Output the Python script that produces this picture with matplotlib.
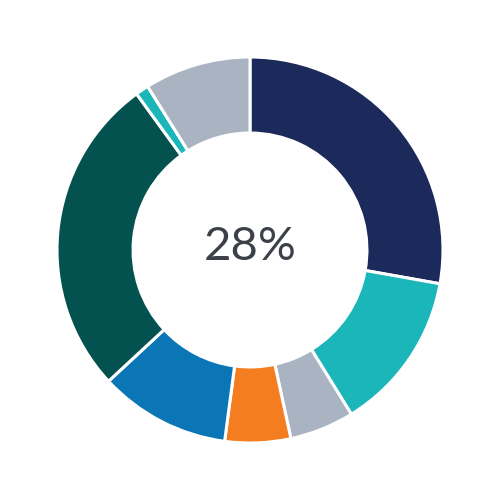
import matplotlib
matplotlib.use("Agg")
from matplotlib import pyplot as plt

# slices clockwise from the top
shares = [27.8, 13.4, 5.4, 5.5, 11, 26.9, 1.1, 8.9]
colors = ["#1c2a5b", "#1ab6b9", "#a9b3c1", "#f47d20",
          "#0a76b6", "#04524f", "#1ab6b9", "#a9b3c1"]
center_label = "28%"

fig = plt.figure(figsize=(5, 5), dpi=100)
ax = fig.add_axes([0, 0, 1, 1])

ax.pie(shares, colors=colors, startangle=90, counterclock=False,
       radius=1, wedgeprops=dict(width=0.394, edgecolor="white", linewidth=2.2))

ax.text(0, 0.015, center_label, ha="center", va="center",
        fontsize=34, family="Lato", color="#3c4048")

lim = 250 / 193
ax.set_xlim(-lim, lim)
ax.set_ylim(-lim, lim)
ax.set_aspect("equal")
ax.axis("off")

fig.savefig("out.png", dpi=100)
